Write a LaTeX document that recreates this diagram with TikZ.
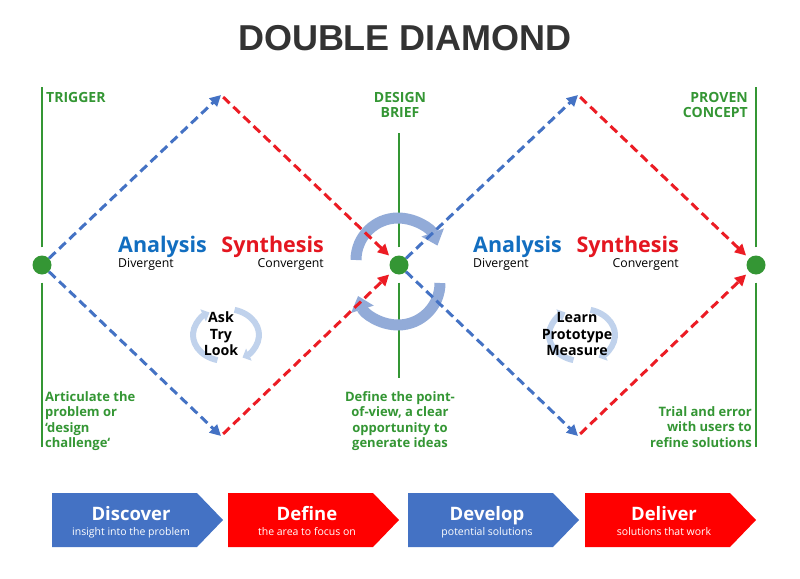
\documentclass[tikz,border=0pt]{standalone}
\usepackage{fontspec}
\setmainfont{Open Sans}
\newfontfamily\titlefont{Liberation Sans}
\usetikzlibrary{arrows.meta}

\definecolor{ddblue}{RGB}{68,114,196}
\definecolor{ddred}{RGB}{236,28,36}
\definecolor{ddgreen}{RGB}{52,150,52}
\definecolor{anablue}{RGB}{18,110,192}
\definecolor{synred}{RGB}{228,22,32}
\definecolor{loopblue}{RGB}{146,171,216}
\definecolor{cycleblue}{RGB}{192,210,236}
\definecolor{stagered}{RGB}{255,0,0}
\definecolor{titlegray}{RGB}{51,51,51}

\begin{document}
\begin{tikzpicture}[x=1pt, y=-1pt,
  every node/.style={inner sep=0pt},
  dot/.style={circle, fill=ddgreen, minimum size=19pt},
  milestone/.style={ddgreen, line width=1.3pt},
  green label/.style={text=ddgreen, font=\fontsize{14}{15.6}\selectfont\bfseries},
  green note/.style={text=ddgreen, font=\fontsize{13}{15.6}\selectfont\bfseries},
  diverge/.style={ddblue, line width=3pt, dash pattern=on 9pt off 5pt, -{Triangle[length=11pt,width=11pt]}},
  converge/.style={ddred, line width=3pt, dash pattern=on 9pt off 5pt, -{Triangle[length=11pt,width=11pt]}},
  heading/.style={font=\fontsize{21.5}{24}\selectfont\bfseries},
  mode/.style={font=\fontsize{12.3}{14}\selectfont},
  big loop/.style={loopblue, line width=11pt, -{Triangle[length=14pt,width=23pt]}},
  small loop/.style={cycleblue, line width=6pt, -{Triangle[length=7pt,width=13pt]}},
  loop text/.style={font=\fontsize{14.2}{16.5}\selectfont\bfseries, align=center},
  stage title/.style={text=white, font=\fontsize{18.5}{20}\selectfont\bfseries},
  stage sub/.style={text=white, font=\fontsize{10.5}{12}\selectfont}]

  \useasboundingbox[fill=white] (0,0) rectangle (800,578);

  \node[text=titlegray, font=\titlefont\bfseries\fontsize{36}{40}\selectfont] (title) at (405,38) {DOUBLE DIAMOND};

  \node[dot] (trigger) at (42,265) {};
  \node[dot] (brief) at (399,265) {};
  \node[dot] (concept) at (756,265) {};

  \coordinate (top1) at (221,95);
  \coordinate (bot1) at (221,436);
  \coordinate (top2) at (578,95);
  \coordinate (bot2) at (578,436);

  \coordinate (trigger up) at (42,87);
  \coordinate (trigger down) at (42,447);
  \coordinate (brief up) at (399,133);
  \coordinate (brief down) at (399,378);
  \coordinate (concept up) at (756,87);
  \coordinate (concept down) at (756,447);

  \foreach \d in {trigger, brief, concept} {
    \draw[milestone, shorten <=8pt] (\d) -- (\d\space up);
    \draw[milestone, shorten <=8pt] (\d) -- (\d\space down);
  }

  \draw[big loop] (356,260) arc[start angle=180, end angle=340, radius=42];
  \draw[big loop] (440,283) arc[start angle=0, end angle=162, radius=42];

  \draw[diverge] (trigger) -- (top1);
  \draw[diverge] (trigger) -- (bot1);
  \draw[converge, shorten <=3pt, shorten >=4pt] (top1) -- (brief);
  \draw[converge, shorten <=3pt, shorten >=4pt] (bot1) -- (brief);
  \draw[diverge] (brief) -- (top2);
  \draw[diverge] (brief) -- (bot2);
  \draw[converge, shorten <=3pt, shorten >=4pt] (top2) -- (concept);
  \draw[converge, shorten <=3pt, shorten >=4pt] (bot2) -- (concept);

  \node[green label, anchor=north west] (trigger label) at (46,92) {TRIGGER};
  \node[green label, anchor=north, align=center] (brief label) at (400,92) {DESIGN\\BRIEF};
  \node[green label, anchor=north east, align=right] (concept label) at (748,92) {PROVEN\\CONCEPT};

  \node[heading, text=anablue, anchor=base west] (analysis1) at (118,252) {Analysis};
  \node[mode, anchor=base west] (divergent1) at (118,267) {Divergent};
  \node[heading, text=synred, anchor=base east] (synthesis1) at (324,252) {Synthesis};
  \node[mode, anchor=base east] (convergent1) at (324,267) {Convergent};
  \node[heading, text=anablue, anchor=base west] (analysis2) at (473,252) {Analysis};
  \node[mode, anchor=base west] (divergent2) at (473,267) {Divergent};
  \node[heading, text=synred, anchor=base east] (synthesis2) at (679,252) {Synthesis};
  \node[mode, anchor=base east] (convergent2) at (679,267) {Convergent};

  \foreach \cx in {226,582} {
    \draw[small loop] (\cx,335) ++(105:33 and 26) arc[start angle=105, end angle=240, x radius=33, y radius=26];
    \draw[small loop] (\cx,335) ++(285:33 and 26) arc[start angle=285, end angle=420, x radius=33, y radius=26];
  }
  \node[loop text] (explore) at (221,334) {Ask\\Try\\Look};
  \node[loop text] (iterate) at (577,334) {Learn\\Prototype\\Measure};

  \node[green note, anchor=north west, align=left] (trigger note) at (45,391) {Articulate the\\problem or\\‘design\\challenge‘};
  \node[green note, anchor=north, align=center] (brief note) at (400,391) {Define the point-\\of-view, a clear\\opportunity to\\generate ideas};
  \node[green note, anchor=north east, align=right] (concept note) at (752,406) {Trial and error\\with users to\\refine solutions};

  \foreach \x/\c/\name/\title/\sub in {52/ddblue/discover/Discover/insight into the problem,
      228/stagered/define/Define/the area to focus on,
      408/ddblue/develop/Develop/potential solutions,
      585/stagered/deliver/Deliver/solutions that work} {
    \fill[\c] (\x,493) -- ++(145,0) -- ++(26,27) -- ++(-26,27) -- ++(-145,0) -- cycle;
    \node[stage title, anchor=base] (\name) at (\x+79,520.5) {\title};
    \node[stage sub, anchor=base] (\name-sub) at (\x+79,535) {\sub};
  }
\end{tikzpicture}
\end{document}
